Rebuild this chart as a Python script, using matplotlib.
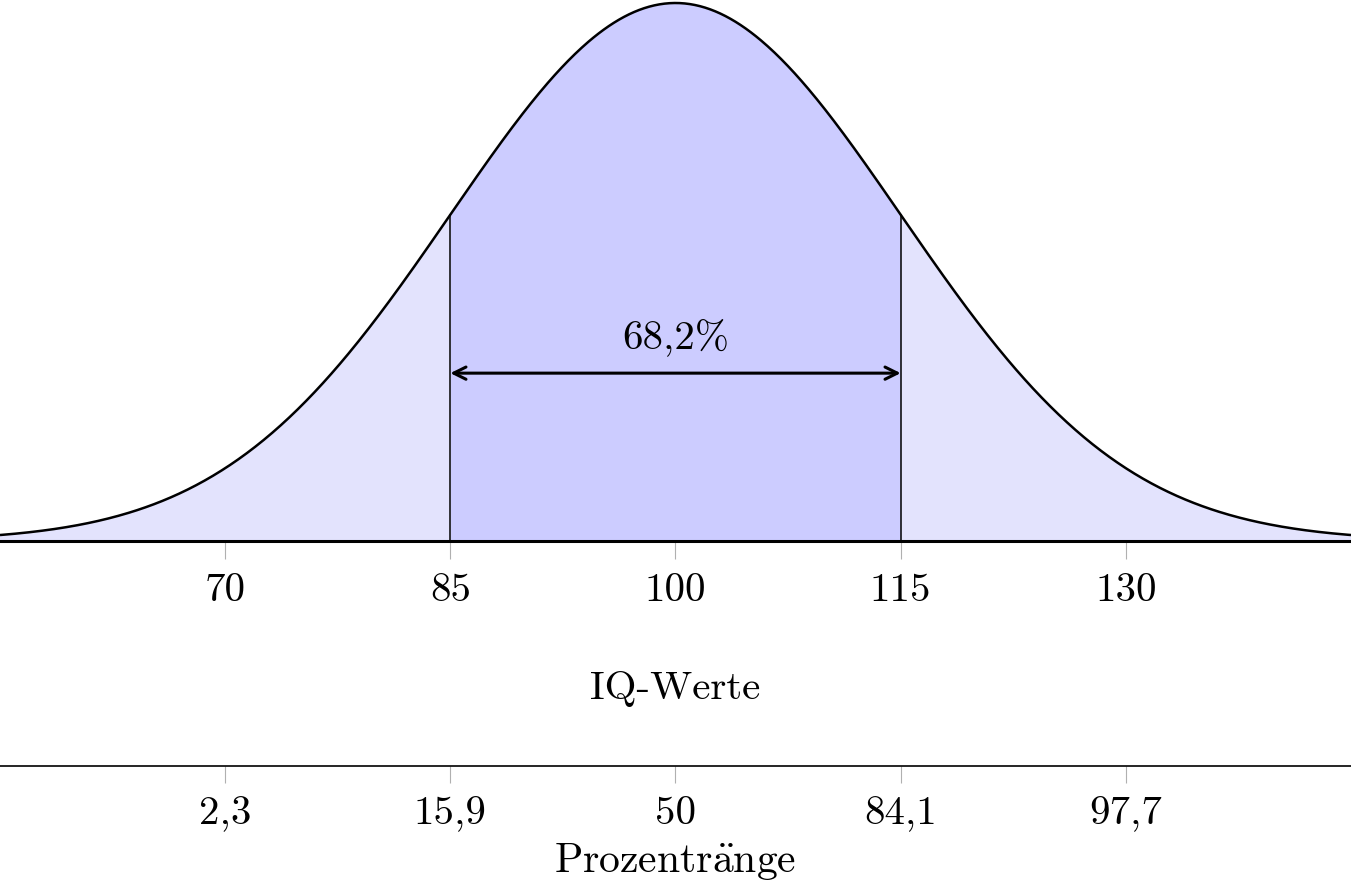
import numpy as np
import matplotlib
matplotlib.use('Agg')
import matplotlib.pyplot as plt

plt.rcParams['font.family'] = ['cmr10', 'DejaVu Serif']
plt.rcParams['mathtext.fontset'] = 'cm'
plt.rcParams['axes.unicode_minus'] = False

MEAN = 100
SD = 15
X_MIN, X_MAX = 55, 145
iq_ticks = [70, 85, 100, 115, 130]
iq_labels = ['70', '85', '100', '115', '130']
pr_labels = ['2,3', '15,9', '50', '84,1', '97,7']
band = [85, 115]
band_label = '68,2%'

LIGHT = '#e3e3fd'
DARK = '#ccccff'
TICK_GRAY = '#b0b0b0'
FS = 29.5

def pdf(x):
    return np.exp(-0.5 * ((x - MEAN) / SD) ** 2)

W, H = 1351, 880
fig = plt.figure(figsize=(W / 100, H / 100), dpi=100)

base_px = 541
ax = fig.add_axes([0, (H - base_px) / H, 1, base_px / H])
x = np.linspace(X_MIN, X_MAX, 800)
y = pdf(x)
ax.fill_between(x, 0, y, color=LIGHT, lw=0)
xb = np.linspace(band[0], band[1], 400)
ax.fill_between(xb, 0, pdf(xb), color=DARK, lw=0)
ax.plot(x, y, color='black', lw=1.8, solid_capstyle='butt')
for b in band:
    ax.plot([b, b], [0, pdf(b)], color='black', lw=1.1)

arrow_y = 0.312
ax.annotate('', xy=(band[0], arrow_y), xytext=(band[1], arrow_y),
            arrowprops=dict(arrowstyle='<->', lw=2.2, color='black',
                            shrinkA=0, shrinkB=0, mutation_scale=22))
ax.text(MEAN, arrow_y + 0.03, band_label, ha='center', va='bottom', fontsize=FS)

ax.set_xlim(X_MIN, X_MAX)
ax.set_ylim(0, 1 * base_px / 538)
for s in ['top', 'left', 'right']:
    ax.spines[s].set_visible(False)
ax.spines['bottom'].set_linewidth(2.2)
ax.set_yticks([])
ax.set_xticks(iq_ticks)
ax.set_xticklabels(iq_labels, fontsize=FS)
ax.tick_params(axis='x', direction='out', length=13, width=0.8, color=TICK_GRAY, pad=10)
ax.set_xlabel('IQ-Werte', fontsize=FS, labelpad=45)
ax.patch.set_alpha(0)

# second scale: percentile ranks
pr_px = 766
ax2 = fig.add_axes([0, (H - pr_px) / H, 1, 0.0001])
ax2.set_xlim(X_MIN, X_MAX)
ax2.set_yticks([])
for s in ['top', 'left', 'right']:
    ax2.spines[s].set_visible(False)
ax2.spines['bottom'].set_linewidth(1.2)
ax2.set_xticks(iq_ticks)
ax2.set_xticklabels(pr_labels, fontsize=FS)
ax2.tick_params(axis='x', direction='out', length=12, width=0.8, color=TICK_GRAY, pad=10)
ax2.set_xlabel(r'$\mathrm{Prozentr\ddot{a}nge}$', fontsize=30, labelpad=6)
ax2.patch.set_alpha(0)

fig.savefig('out.png', dpi=100)
